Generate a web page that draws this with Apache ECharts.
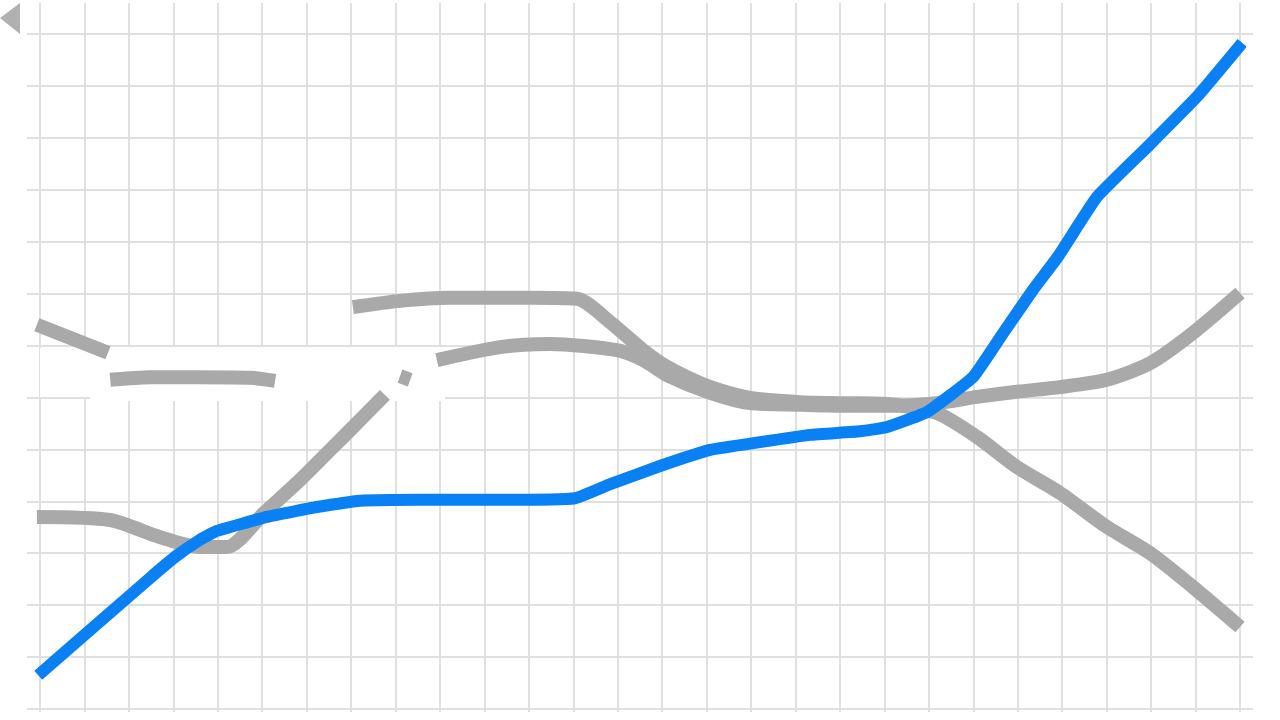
<!DOCTYPE html>
<html>
<head>
<meta charset="utf-8">
<style>html,body{margin:0;padding:0;background:#fff;}#c{width:1280px;height:720px;}</style>
<script src="https://cdn.jsdelivr.net/npm/echarts@6/dist/echarts.min.js"></script>
</head>
<body>
<div id="c"></div>
<script>
// Grid: 27 columns, 13 rows
const columns = 27;
const rows = 13;

// Blue series [x, y] in grid units
const blueLine = [
  [-0.04, 0.65], [2.47, 2.52], [3.04, 2.93], [3.6, 3.26], [3.98, 3.43], [5.11, 3.70],
  [6.23, 3.89], [7.2, 4.01], [8.55, 4.03], [10.35, 4.03], [12.04, 4.06], [12.83, 4.33],
  [13.95, 4.68], [15.08, 4.99], [16.2, 5.14], [17.33, 5.28], [18.45, 5.35], [19.06, 5.43],
  [19.96, 5.72], [20.99, 6.39], [21.67, 7.24], [22.34, 8.07], [22.91, 8.72], [23.78, 9.86],
  [24.91, 10.82], [26.03, 11.79], [27.05, 12.83]
];

// Grey series A (starts low, rises at the right)
const greyA = [
  [-0.07, 3.70], [1.58, 3.64], [2.7, 3.31], [3.6, 3.12], [4.2, 3.12], [5.06, 3.79],
  [5.85, 4.41], [6.53, 4.99], [7.09, 5.47], [7.76, 6.05],
  [null, null],
  [8.1, 6.41], [8.33, 6.34],
  [null, null],
  [8.93, 6.72], [10.35, 6.97], [11.48, 7.03], [12.98, 6.91], [13.57, 6.72], [14.11, 6.43],
  [15.08, 6.09], [15.98, 5.89], [17.1, 5.86], [18.11, 5.84], [19.13, 5.84], [20.18, 5.89],
  [21.08, 6.01], [21.98, 6.11], [22.95, 6.20], [24.0, 6.34], [24.98, 6.66], [25.94, 7.24],
  [27.0, 8.01]
];

// Grey series B (starts high, falls at the right)
const greyB = [
  [-0.07, 7.40], [1.53, 6.86],
  [null, null],
  [1.58, 6.34], [2.47, 6.39], [3.6, 6.39], [4.73, 6.38], [5.29, 6.32],
  [null, null],
  [7.04, 7.74], [8.1, 7.86], [9.23, 7.92], [11.03, 7.92], [12.08, 7.90], [12.83, 7.45],
  [13.57, 6.91], [14.11, 6.59], [15.08, 6.20], [15.98, 5.99], [17.1, 5.91], [18.11, 5.89],
  [19.13, 5.87], [20.18, 5.70], [21.08, 5.24], [21.98, 4.66], [22.95, 4.16], [24.0, 3.51],
  [24.98, 3.00], [25.94, 2.35], [27.0, 1.58]
];

// Blank (erased) patch, grid units
const blankPatch = [
  [[1.12, 5.93], [9.11, 6.97]],
  [[-0.1, 6.01], [1.12, 6.95]]
];

const gridColor = '#e0e0e0';
const chart = echarts.init(document.getElementById('c'), null, {renderer: 'canvas'});
chart.setOption({
  backgroundColor: '#ffffff',
  animation: false,
  graphic: [{
    type: 'polygon',
    shape: {points: [[0, 18], [20, 3], [20, 34]]},
    style: {fill: '#b0b0b0'}
  }],
  grid: [
    {left: 40, right: 40, top: 3, bottom: 8},
    {left: 27, right: 27, top: 34, bottom: 11},
    {left: 40, right: 40, top: 34, bottom: 11}
  ],
  xAxis: [
    {gridIndex: 0, type: 'value', min: 0, max: columns, interval: 1,
     axisLine: {show: false}, axisTick: {show: false}, axisLabel: {show: false},
     splitLine: {show: true, lineStyle: {color: gridColor, width: 2}}},
    {gridIndex: 1, type: 'value', min: 0, max: 1, show: false, splitLine: {show: false}},
    {gridIndex: 2, type: 'value', min: 0, max: columns, show: false, splitLine: {show: false}}
  ],
  yAxis: [
    {gridIndex: 0, type: 'value', min: 0, max: 1, show: false, splitLine: {show: false}},
    {gridIndex: 1, type: 'value', min: 0, max: rows, interval: 1,
     axisLine: {show: false}, axisTick: {show: false}, axisLabel: {show: false},
     splitLine: {show: true, lineStyle: {color: gridColor, width: 2}}},
    {gridIndex: 2, type: 'value', min: 0, max: rows, show: false, splitLine: {show: false}}
  ],
  series: [
    {
      type: 'line', xAxisIndex: 2, yAxisIndex: 2, data: [], symbol: 'none', clip: false, z: 1,
      markArea: {
        silent: true,
        itemStyle: {color: '#ffffff'},
        data: blankPatch.map(p => [{coord: p[0]}, {coord: p[1]}])
      }
    },
    {
      type: 'line', xAxisIndex: 2, yAxisIndex: 2, data: greyA, symbol: 'none', clip: false,
      smooth: 0.25, connectNulls: false, z: 3,
      lineStyle: {color: '#a9a9a9', width: 14, join: 'round'}
    },
    {
      type: 'line', xAxisIndex: 2, yAxisIndex: 2, data: greyB, symbol: 'none', clip: false,
      smooth: 0.25, connectNulls: false, z: 3,
      lineStyle: {color: '#a9a9a9', width: 14, join: 'round'}
    },
    {
      type: 'line', xAxisIndex: 2, yAxisIndex: 2, data: blueLine, symbol: 'none', clip: false,
      smooth: 0.12, z: 4,
      lineStyle: {color: '#0a80f5', width: 12, join: 'round'}
    }
  ]
});
</script>
</body>
</html>
